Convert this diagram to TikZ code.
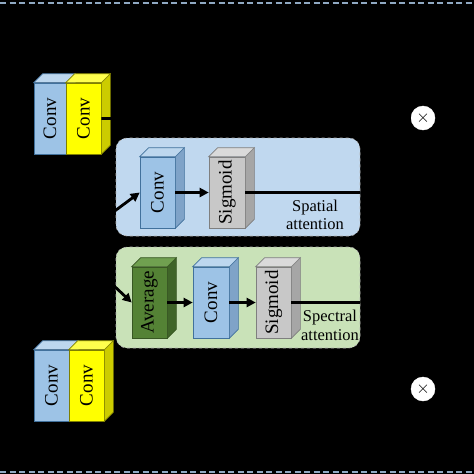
\documentclass[tikz,border=0pt]{standalone}
\usepackage{fontspec}
\setmainfont{Liberation Serif}
\usetikzlibrary{arrows.meta}
\definecolor{bgblk}{HTML}{000000}
\definecolor{dashc}{HTML}{8FA8C2}
\definecolor{bluef}{HTML}{9DC3E6}
\definecolor{blues}{HTML}{7FA3C8}
\definecolor{bluet}{HTML}{BDD7EE}
\definecolor{blueb}{HTML}{41719C}
\definecolor{yelf}{HTML}{FFFF00}
\definecolor{yels}{HTML}{CCCC00}
\definecolor{yelt}{HTML}{FFFF4D}
\definecolor{yelb}{HTML}{7F7F00}
\definecolor{grayf}{HTML}{C8C8C8}
\definecolor{grays}{HTML}{A6A6A6}
\definecolor{grayt}{HTML}{DADADA}
\definecolor{grayb}{HTML}{7F7F7F}
\definecolor{grnf}{HTML}{548235}
\definecolor{grns}{HTML}{3F6428}
\definecolor{grnt}{HTML}{70A050}
\definecolor{grnb}{HTML}{385723}
\definecolor{spatbg}{HTML}{C0D8EF}
\definecolor{specbg}{HTML}{C9E2B8}
\newcommand{\cubefaces}[4]{%
  % #1 node name, #2 side colour, #3 top colour, #4 border colour
  \draw[draw=#4, line width=0.6pt, fill=#2] (#1.north east) -- ++(9,-9) -- ([shift={(9,-9)}]#1.south east) -- (#1.south east) -- cycle;
  \draw[draw=#4, line width=0.6pt, fill=#3] (#1.north west) -- ++(9,-9) -- ([shift={(9,-9)}]#1.north east) -- (#1.north east) -- cycle;
}
\begin{document}
\begin{tikzpicture}[x=1pt,y=-1pt,
  front/.style={draw=#1, line width=0.6pt, inner sep=0pt, minimum height=71pt, font=\fontsize{19}{19}\selectfont},
  conn/.style={line width=2.8pt, black},
  arr/.style={conn, -{Triangle[length=9pt,width=9pt]}},
  modbox/.style={draw=gray!60, dashed, line width=0.6pt, rounded corners=11pt},
  lbl/.style={align=center, font=\fontsize{16.5}{18.5}\selectfont},
  mult/.style={circle, fill=white, draw=white, minimum size=24pt, inner sep=0pt, font=\fontsize{16}{16}\selectfont}]
\fill[bgblk] (0,0) rectangle (474,474);
\useasboundingbox (0,0) rectangle (474,474);
\draw[dashc, line width=2pt, dash pattern=on 6pt off 3.5pt] (0,3) -- (474,3);
\draw[dashc, line width=2pt, dash pattern=on 6pt off 3.5pt] (0,472) -- (474,472);

% top conv pair
\node[front=blueb, fill=bluef, minimum width=32pt] (ta) at (50,118.5) {\rotatebox{90}{Conv}};
\cubefaces{ta}{blues}{bluet}{blueb}
\node[front=yelb, fill=yelf, minimum width=35pt] (tb) at (83.5,118.5) {\rotatebox{90}{Conv}};
\cubefaces{tb}{yels}{yelt}{yelb}

% multiply nodes
\node[mult] (m1) at (423,118) {$\times$};
\node[mult] (m2) at (423,389) {$\times$};
\draw[conn] (tb.east) -- (m1.west);

% spatial attention module
\filldraw[modbox, fill=spatbg] (116,138) rectangle (360,236);
\node[front=blueb, fill=bluef, minimum width=35pt] (sc) at (157.5,192.5) {\rotatebox{90}{Conv}};
\cubefaces{sc}{blues}{bluet}{blueb}
\node[front=grayb, fill=grayf, minimum width=36pt] (ss) at (227,192.5) {\rotatebox{90}{Sigmoid}};
\cubefaces{ss}{grays}{grayt}{grayb}
\coordinate (sin) at (112,213);
\coordinate (sout) at (360,192.5);
\draw[arr] (sin) -- (sc.west);
\draw[arr] (sc.east) -- (ss.west);
\draw[conn] (ss.east) -- (sout);
\node[lbl] (slab) at (315,215) {Spatial\\attention};

% spectral attention module
\filldraw[modbox, fill=specbg] (116,247) rectangle (360,348);
\node[front=grnb, fill=grnf, minimum width=35pt] (pa) at (149.5,302.5) {\rotatebox{90}{Average}};
\cubefaces{pa}{grns}{grnt}{grnb}
\node[front=blueb, fill=bluef, minimum width=36pt] (pc) at (211,302.5) {\rotatebox{90}{Conv}};
\cubefaces{pc}{blues}{bluet}{blueb}
\node[front=grayb, fill=grayf, minimum width=35pt] (ps) at (273.5,302.5) {\rotatebox{90}{Sigmoid}};
\cubefaces{ps}{grays}{grayt}{grayb}
\coordinate (pin) at (112,284);
\coordinate (pout) at (360,302.5);
\draw[arr] (pin) -- (pa.west);
\draw[arr] (pa.east) -- (pc.west);
\draw[arr] (pc.east) -- (ps.west);
\draw[conn] (ps.east) -- (pout);
\node[lbl] (plab) at (330,325.5) {Spectral\\attention};

% bottom conv pair
\node[front=blueb, fill=bluef, minimum width=35pt] (ba) at (51.5,385.5) {\rotatebox{90}{Conv}};
\cubefaces{ba}{blues}{bluet}{blueb}
\node[front=yelb, fill=yelf, minimum width=35pt] (bb) at (86.5,385.5) {\rotatebox{90}{Conv}};
\cubefaces{bb}{yels}{yelt}{yelb}
\end{tikzpicture}
\end{document}
